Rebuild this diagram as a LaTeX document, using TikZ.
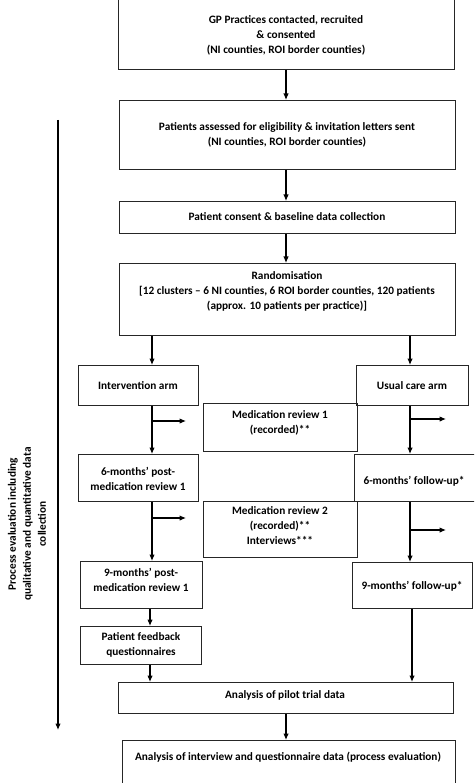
\documentclass[tikz,border=0pt]{standalone}
\usepackage{fontspec}
\setmainfont{Carlito}
\usetikzlibrary{arrows.meta}
\begin{document}
\begin{tikzpicture}[x=1pt,y=-1pt,
  box/.style={draw=black!85, line width=0.8pt, inner sep=0pt, anchor=north west},
  txt/.style={font=\bfseries\fontsize{11.3}{15}\selectfont, align=center, inner sep=0pt},
  arr/.style={line width=1.1pt, -{Latex[length=6.5pt,width=5.5pt]}},
  seg/.style={line width=1.1pt}]
\useasboundingbox (0,0) rectangle (474,783);
\clip (0,0) rectangle (474,783);
% boxes: top-left corner, size
\node[box, minimum width=336pt, minimum height=72pt] (b1) at (118,-3) {};
\node[txt] (t1) at (286,35) {GP Practices contacted, recruited\\ \& consented\\ (NI counties, ROI border counties)};
\node[box, minimum width=336pt, minimum height=69pt] (b2) at (119,100) {};
\node[txt] (t2) at (287,135) {Patients assessed for eligibility \& invitation letters sent\\(NI counties, ROI border counties)};
\node[box, minimum width=336pt, minimum height=32pt] (b3) at (119,201) {};
\node[txt] (t3) at (287,217) {Patient consent \& baseline data collection};
\node[box, minimum width=336pt, minimum height=72pt] (b4) at (119,263) {};
\node[txt] (t4) at (287,291) {Randomisation\\{}[12 clusters -- 6 NI counties, 6 ROI border counties, 120 patients\\(approx. 10 patients per practice)]};
\node[box, minimum width=120pt, minimum height=40pt] (ia) at (78,365) {};
\node[txt] (tia) at (138,386) {Intervention arm};
\node[box, minimum width=112pt, minimum height=40pt] (ua) at (356,365) {};
\node[txt] (tua) at (412,386) {Usual care arm};
\node[box, minimum width=154pt, minimum height=48pt] (m1) at (203,403) {};
\node[txt] (tm1) at (280,423) {Medication review 1\\(recorded)**};
\node[box, minimum width=120pt, minimum height=47pt] (p6) at (78,454) {};
\node[txt] (tp6) at (138,479) {6-months’ post-\\medication review 1};
\node[box, minimum width=124pt, minimum height=47pt] (f6) at (354,454) {};
\node[txt] (tf6) at (414,481) {6-months’ follow-up*};
\node[box, minimum width=154pt, minimum height=56pt] (m2) at (203,501) {};
\node[txt] (tm2) at (280,526) {Medication review 2\\(recorded)**\\Interviews***};
\node[box, minimum width=122pt, minimum height=47pt] (p9) at (80,561) {};
\node[txt] (tp9) at (141,580) {9-months’ post-\\medication review 1};
\node[box, minimum width=120pt, minimum height=46pt] (f9) at (352,562) {};
\node[txt] (tf9) at (412,586) {9-months’ follow-up*};
\node[box, minimum width=121pt, minimum height=38pt] (fb) at (80,626) {};
\node[txt] (tfb) at (141,645) {Patient feedback\\questionnaires};
\node[box, minimum width=335pt, minimum height=31pt] (ap) at (118,682) {};
\node[txt] (tap) at (285,695) {Analysis of pilot trial data};
\node[box, minimum width=333pt, minimum height=60pt] (ai) at (122,740) {};
\node[txt] (tai) at (288,757) {Analysis of interview and questionnaire data (process evaluation)};
% side label
\node[txt, rotate=90] (side) at (27,524) {Process evaluation including\\qualitative and quantitative data\\collection};
% guide coordinates
\coordinate (xc) at (286,0);
\coordinate (xl) at (152,0);
\coordinate (xr) at (410,0);
\coordinate (xf) at (150,0);
\coordinate (xs) at (58,0);
% main arrows
\draw[arr] (b1.south -| xc) -- (b2.north -| xc);
\draw[arr] (b2.south -| xc) -- (b3.north -| xc);
\draw[arr] (b3.south -| xc) -- (b4.north -| xc);
\draw[arr] (b4.south -| xl) -- (ia.north -| xl);
\draw[arr] (b4.south -| xr) -- (ua.north -| xr);
\draw[arr] (ia.south -| xl) -- (p6.north -| xl);
\draw[arr] (ua.south -| xr) -- (f6.north -| xr);
\draw[arr] (p6.south -| xl) -- (p9.north -| xl);
\draw[arr] (f6.south -| xr) -- (f9.north -| xr);
\draw[arr] (p9.south -| xf) -- (fb.north -| xf);
\draw[arr] (fb.south -| xf) -- (ap.north -| xf);
\draw[arr] (f9.south -| 412,0) -- (ap.north -| 412,0);
\draw[arr] (ap.south -| xc) -- (ai.north -| xc);
% branch arrows
\coordinate (br1) at (152,421);
\coordinate (br1e) at (186,421);
\coordinate (br2) at (152,518);
\coordinate (br2e) at (186,518);
\coordinate (br3) at (410,419);
\coordinate (br3e) at (446,419);
\coordinate (br4) at (410,530);
\coordinate (br4e) at (446,530);
\draw[arr] (br1) -- (br1e);
\draw[arr] (br2) -- (br2e);
\draw[arr] (br3) -- (br3e);
\draw[arr] (br4) -- (br4e);
% side arrow
\coordinate (s1) at (58,120);
\coordinate (s2) at (58,730);
\draw[arr] (s1) -- (s2);
\end{tikzpicture}
\end{document}
